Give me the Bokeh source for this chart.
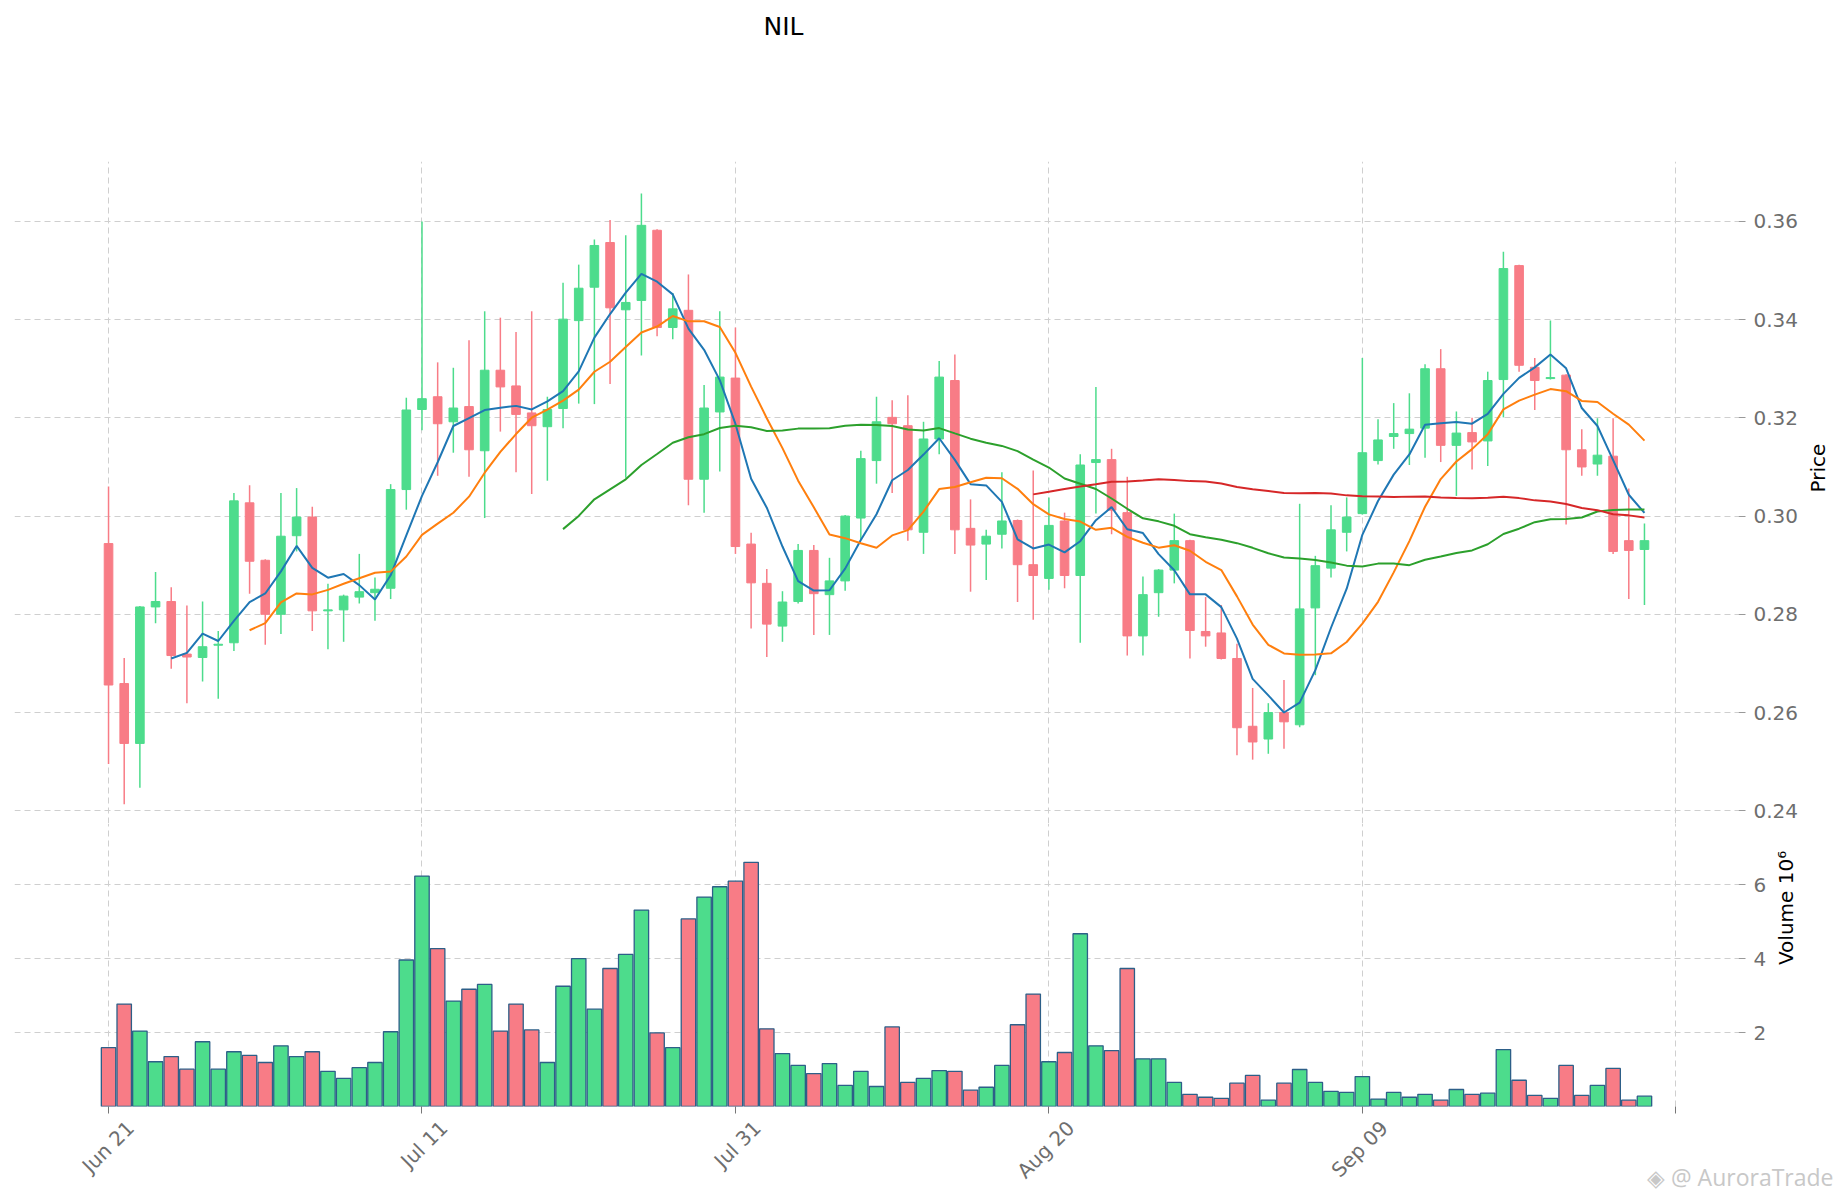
import math
import numpy as np
import pandas as pd
from bokeh.plotting import figure
from bokeh.models import (ColumnDataSource, FixedTicker, Range1d, Grid, Title, LinearAxis,
                          NumeralTickFormatter, CustomJSTickFormatter)
from bokeh.layouts import column
from bokeh.embed import file_html
from bokeh.resources import INLINE

# ---------------- data ----------------
start_date = "2024-06-21"
opens = [0.2944, 0.2659, 0.2537, 0.2815, 0.2826, 0.2719, 0.2712, 0.2737, 0.2742, 0.3027,
         0.2910, 0.2800, 0.2960, 0.2998, 0.2807, 0.2809, 0.2835, 0.2844, 0.2853, 0.3054,
         0.3217, 0.3243, 0.3192, 0.3223, 0.3133, 0.3297, 0.3265, 0.3210, 0.3182, 0.3219,
         0.3398, 0.3466, 0.3557, 0.3420, 0.3439, 0.3582, 0.3384, 0.3419, 0.3075, 0.3212,
         0.3281, 0.2943, 0.2863, 0.2776, 0.2826, 0.2930, 0.2840, 0.2868, 0.2996, 0.3113,
         0.3201, 0.3184, 0.2967, 0.3157, 0.3276, 0.2975, 0.2943, 0.2963, 0.2991, 0.2901,
         0.2873, 0.2990, 0.2879, 0.3109, 0.3115, 0.3007, 0.2756, 0.2844, 0.2890, 0.2950,
         0.2765, 0.2762, 0.2710, 0.2572, 0.2546, 0.2600, 0.2575, 0.2813, 0.2894, 0.2967,
         0.3005, 0.3113, 0.3162, 0.3168, 0.3179, 0.3300, 0.3144, 0.3170, 0.3153, 0.3278,
         0.3510, 0.3303, 0.3280, 0.3287, 0.3135, 0.3106, 0.3122, 0.2950, 0.2932]
highs = [0.3060, 0.2711, 0.2817, 0.2886, 0.2855, 0.2818, 0.2826, 0.2766, 0.3047, 0.3063,
         0.2912, 0.3047, 0.3057, 0.3019, 0.2862, 0.2840, 0.2923, 0.2875, 0.3065, 0.3241,
         0.3600, 0.3313, 0.3302, 0.3358, 0.3417, 0.3404, 0.3375, 0.3417, 0.3243, 0.3475,
         0.3512, 0.3563, 0.3603, 0.3572, 0.3657, 0.3584, 0.3454, 0.3492, 0.3267, 0.3417,
         0.3384, 0.2966, 0.2892, 0.2847, 0.2943, 0.2941, 0.2915, 0.3002, 0.3133, 0.3243,
         0.3236, 0.3246, 0.3192, 0.3316, 0.3329, 0.3034, 0.2972, 0.3089, 0.2993, 0.3093,
         0.3038, 0.3007, 0.3126, 0.3263, 0.3137, 0.3080, 0.2877, 0.2892, 0.3005, 0.2952,
         0.2835, 0.2819, 0.2740, 0.2650, 0.2619, 0.2666, 0.3025, 0.2919, 0.3022, 0.3038,
         0.3322, 0.3197, 0.3230, 0.3250, 0.3309, 0.3340, 0.3213, 0.3200, 0.3294, 0.3538,
         0.3512, 0.3322, 0.3398, 0.3289, 0.3177, 0.3199, 0.3199, 0.3056, 0.2985]
lows = [0.2495, 0.2413, 0.2447, 0.2782, 0.2689, 0.2619, 0.2663, 0.2628, 0.2725, 0.2842,
        0.2738, 0.2760, 0.2928, 0.2766, 0.2729, 0.2744, 0.2822, 0.2787, 0.2831, 0.3013,
        0.3175, 0.3082, 0.3129, 0.3080, 0.2996, 0.3172, 0.3089, 0.3045, 0.3072, 0.3179,
        0.3229, 0.3228, 0.3269, 0.3078, 0.3327, 0.3366, 0.3360, 0.3022, 0.3007, 0.3091,
        0.2923, 0.2771, 0.2713, 0.2744, 0.2822, 0.2758, 0.2758, 0.2848, 0.2952, 0.3066,
        0.3047, 0.2950, 0.2923, 0.3126, 0.2923, 0.2846, 0.2870, 0.2934, 0.2825, 0.2789,
        0.2850, 0.2853, 0.2742, 0.3005, 0.2963, 0.2716, 0.2716, 0.2795, 0.2863, 0.2710,
        0.2734, 0.2708, 0.2513, 0.2504, 0.2516, 0.2526, 0.2570, 0.2676, 0.2875, 0.2928,
        0.3003, 0.3105, 0.3137, 0.3104, 0.3119, 0.3110, 0.3041, 0.3095, 0.3102, 0.3201,
        0.3294, 0.3216, 0.3278, 0.2983, 0.3082, 0.3082, 0.2923, 0.2831, 0.2819]
closes = [0.2656, 0.2537, 0.2815, 0.2826, 0.2716, 0.2713, 0.2734, 0.2739, 0.3031, 0.2908,
          0.2800, 0.2959, 0.2998, 0.2807, 0.2809, 0.2837, 0.2846, 0.2851, 0.3054, 0.3216,
          0.3239, 0.3188, 0.3220, 0.3135, 0.3297, 0.3263, 0.3207, 0.3184, 0.3217, 0.3401,
          0.3464, 0.3551, 0.3424, 0.3435, 0.3592, 0.3384, 0.3422, 0.3075, 0.3220, 0.3283,
          0.2938, 0.2864, 0.2780, 0.2825, 0.2930, 0.2842, 0.2868, 0.3000, 0.3117, 0.3192,
          0.3188, 0.2972, 0.3157, 0.3283, 0.2972, 0.2941, 0.2959, 0.2990, 0.2901, 0.2879,
          0.2981, 0.2879, 0.3104, 0.3115, 0.3012, 0.2756, 0.2840, 0.2890, 0.2950, 0.2767,
          0.2756, 0.2710, 0.2569, 0.2540, 0.2600, 0.2581, 0.2811, 0.2899, 0.2972, 0.2998,
          0.3129, 0.3155, 0.3168, 0.3177, 0.3300, 0.3144, 0.3169, 0.3151, 0.3276, 0.3504,
          0.3307, 0.3276, 0.3282, 0.3135, 0.3100, 0.3124, 0.2928, 0.2930, 0.2950]
volume_m = [1.59, 2.77, 2.04, 1.21, 1.35, 1.01, 1.75, 1.01, 1.48, 1.38,
            1.19, 1.64, 1.35, 1.48, 0.95, 0.76, 1.05, 1.19, 2.02, 3.96,
            6.23, 4.27, 2.85, 3.17, 3.30, 2.04, 2.77, 2.07, 1.19, 3.25,
            4.00, 2.63, 3.73, 4.11, 5.31, 1.99, 1.59, 5.07, 5.66, 5.94,
            6.09, 6.60, 2.10, 1.43, 1.11, 0.89, 1.16, 0.57, 0.95, 0.54,
            2.15, 0.65, 0.76, 0.97, 0.95, 0.44, 0.52, 1.11, 2.21, 3.04,
            1.21, 1.46, 4.67, 1.64, 1.51, 3.73, 1.29, 1.29, 0.65, 0.33,
            0.25, 0.22, 0.63, 0.84, 0.17, 0.63, 1.00, 0.65, 0.41, 0.38,
            0.81, 0.20, 0.38, 0.25, 0.33, 0.17, 0.46, 0.33, 0.36, 1.54,
            0.71, 0.30, 0.22, 1.11, 0.30, 0.57, 1.03, 0.17, 0.28]
ma_windows = [5, 10, 30, 60]
ma_colors = ["#1f77b4", "#ff7f0e", "#2ca02c", "#d62728"]
tick_positions = [0, 20, 40, 60, 80, 100]
tick_labels = ["Jun 21", "Jul 11", "Jul 31", "Aug 20", "Sep 09", ""]
price_ticks = [0.24, 0.26, 0.28, 0.30, 0.32, 0.34, 0.36]
volume_ticks = [2, 4, 6]
title_text = "NIL"
watermark_text = "\u25c8 @ AuroraTrade"

UP = "#4ddc8c"
DOWN = "#f87c86"
GRID = "#cfcfcf"
FONT = "DejaVu Sans"
LABEL_SHIFT = 1.4   # rotated date labels sit slightly right of their ticks

dates = pd.date_range(start_date, periods=len(closes), freq="D")
x = list(range(len(closes)))
colors = [UP if c >= o else DOWN for o, c in zip(opens, closes)]
src = ColumnDataSource(dict(
    x=x, date=[d.strftime("%b %d") for d in dates],
    open=opens, high=highs, low=lows, close=closes,
    top=[max(o, c) for o, c in zip(opens, closes)],
    bottom=[min(o, c) for o, c in zip(opens, closes)],
    vol=volume_m, color=colors))

close_s = pd.Series(closes)
x_range = Range1d(-6, 104)


def style_right_axis(ax, label):
    ax.axis_line_color = None
    ax.major_tick_line_color = "#999999"
    ax.major_tick_out = 7
    ax.major_tick_in = 0
    ax.minor_tick_line_color = None
    ax.major_label_standoff = 8
    ax.major_label_text_font = FONT
    ax.major_label_text_font_size = "20px"
    ax.major_label_text_color = "#6e6e6e"
    ax.axis_label = label
    ax.axis_label_text_font = FONT
    ax.axis_label_text_font_size = "20px"
    ax.axis_label_text_font_style = "normal"
    ax.axis_label_text_color = "black"
    ax.axis_label_standoff = 17
    try:
        ax.axis_label_orientation = math.pi / 2
    except Exception:
        pass


# ---------------- price panel ----------------
p = figure(width=1845, height=823, x_range=x_range, y_range=Range1d(0.2374, 0.3722),
           x_axis_location=None, y_axis_location="right",
           output_backend="svg", toolbar_location=None,
           min_border_left=14, min_border_right=102, min_border_top=161, min_border_bottom=0)
p.outline_line_color = None
for g in p.grid:
    g.visible = False
p.add_layout(Grid(dimension=0, ticker=FixedTicker(ticks=tick_positions),
                  grid_line_color=GRID, grid_line_dash="6 4", grid_line_width=1))
p.add_layout(Grid(dimension=1, ticker=FixedTicker(ticks=price_ticks),
                  grid_line_color=GRID, grid_line_dash="6 4", grid_line_width=1))

ya = p.yaxis[0]
ya.ticker = FixedTicker(ticks=price_ticks)
ya.formatter = NumeralTickFormatter(format="0.00")
style_right_axis(ya, "Price")

p.segment(x0="x", y0="low", x1="x", y1="high", color="color", line_width=1.5, source=src)
p.vbar(x="x", width=0.55, top="top", bottom="bottom", fill_color="color",
       line_color="color", line_width=1, source=src)

for w, col in zip(ma_windows, ma_colors):
    ma = close_s.rolling(w).mean()
    p.line(x, ma.tolist(), color=col, line_width=2)

# spacer (nearest the frame), then the title above it
p.add_layout(Title(text=" ", text_font_size="102px", standoff=0), "above")
p.add_layout(Title(text=title_text, align="left", offset=749, text_font=FONT,
                   text_font_size="25px", text_font_style="normal", text_color="black"),
             "above")

# ---------------- volume panel ----------------
v = figure(width=1845, height=371, x_range=x_range, y_range=Range1d(0, 7.65),
           x_axis_location="below", y_axis_location="right",
           output_backend="svg", toolbar_location=None,
           min_border_left=14, min_border_right=102, min_border_top=0, min_border_bottom=88)
v.outline_line_color = None
for g in v.grid:
    g.visible = False
v.add_layout(Grid(dimension=0, ticker=FixedTicker(ticks=tick_positions),
                  grid_line_color=GRID, grid_line_dash="6 4", grid_line_width=1))
v.add_layout(Grid(dimension=1, ticker=FixedTicker(ticks=volume_ticks),
                  grid_line_color=GRID, grid_line_dash="6 4", grid_line_width=1))

v.vbar(x="x", width=0.92, top="vol", bottom=0, fill_color="color",
       line_color="#2d5f88", line_width=1.3, source=src)

vy = v.yaxis[0]
vy.ticker = FixedTicker(ticks=volume_ticks)
style_right_axis(vy, "Volume  10\u2076")

# tick marks only
vx = v.xaxis[0]
vx.ticker = FixedTicker(ticks=tick_positions)
vx.major_label_overrides = {t: "" for t in tick_positions}
vx.major_label_text_font_size = "1px"
vx.major_label_standoff = 0
vx.axis_line_color = None
vx.major_tick_line_color = "#777777"
vx.major_tick_out = 7
vx.major_tick_in = 0
vx.minor_tick_line_color = None

# rotated date labels
label_pos = [t + LABEL_SHIFT for t in tick_positions]
lab_axis = LinearAxis(
    ticker=FixedTicker(ticks=label_pos),
    formatter=CustomJSTickFormatter(
        args=dict(pos=label_pos, labs=tick_labels),
        code="const i = pos.findIndex(q => Math.abs(q - tick) < 1e-6); return i >= 0 ? labs[i] : '';"),
    axis_line_color=None, major_tick_line_color=None, minor_tick_line_color=None,
    major_tick_out=0, major_tick_in=0, major_label_standoff=11,
    major_label_orientation=math.pi / 4,
    major_label_text_font=FONT, major_label_text_font_size="20px",
    major_label_text_color="#6e6e6e")
v.add_layout(lab_axis, "below")

v.add_layout(Title(text=watermark_text, align="right", offset=-95, vertical_align="top",
                   standoff=-68, text_font="Open Sans", text_font_size="23px",
                   text_font_style="normal", text_color="#c8c8c8"), "below")

layout = column(p, v, spacing=0)
open("out.html", "w").write(file_html(layout, INLINE))
